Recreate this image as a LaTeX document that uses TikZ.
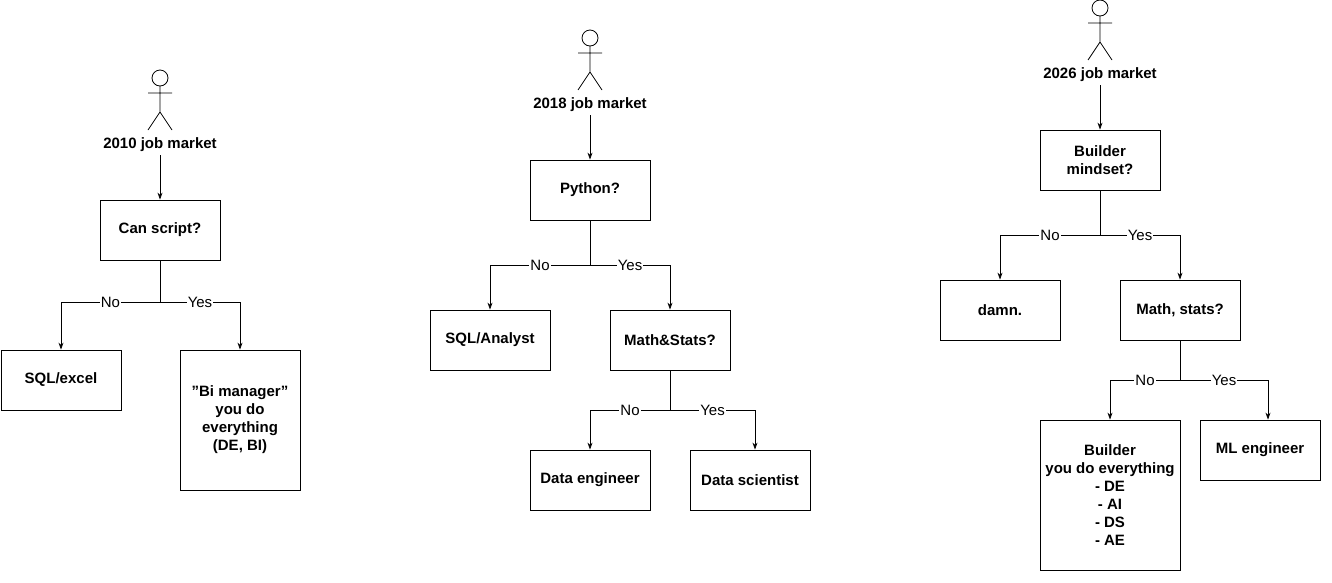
\documentclass[tikz,border=0pt]{standalone}
\usepackage{fontspec}
\setmainfont{Liberation Sans}
\usetikzlibrary{arrows.meta}
\begin{document}
\begin{tikzpicture}[x=1pt,y=-1pt,
  box/.style={draw,line width=0.8pt,minimum width=120pt,minimum height=60pt,align=center,font=\fontsize{15}{18}\selectfont\bfseries},
  lbl/.style={font=\fontsize{15}{18}\selectfont\bfseries,align=center},
  edge/.style={line width=0.8pt},
  arr/.style={line width=0.8pt,-{Stealth[length=7pt,width=5pt]}},
  yn/.style={fill=white,inner sep=1pt,font=\fontsize{15}{18}\selectfont}]
\useasboundingbox (0,0) rectangle (1332,582);
\newcommand{\stick}[3]{%
  \draw[line width=0.8pt] (#1,#2) circle (8);
  \draw[line width=0.8pt] (#1,#2+8) -- (#1,#2+34) (#1-12,#2+15) -- (#1+12,#2+15)
     (#1-12,#2+52) -- (#1,#2+34) -- (#1+12,#2+52);
  \node[lbl] (#3) at (#1,#2+67) {};}
% panel 1
\stick{160}{78}{m1}
\node[lbl] at (160,145) {2010 job market};
\node[box] (a1) at (160,230) {Can script?};
\node[box] (a2) at (61,380) {SQL/excel};
\node[box,minimum height=140pt] (a3) at (240,420) {"Bi manager"\\you do\\everything\\(DE, BI)};
\coordinate (j1) at (160,302);
\draw[arr] (160,155) -- (a1.north);
\draw[edge] (a1.south) -- (j1);
\draw[arr] (j1) -- (a2.north|-j1) node[yn,pos=0.5] {No} -- (a2.north);
\draw[arr] (j1) -- (a3.north|-j1) node[yn,pos=0.5] {Yes} -- (a3.north);
% panel 2
\stick{590}{38}{m2}
\node[lbl] at (590,105) {2018 job market};
\node[box] (b1) at (590,190) {Python?};
\node[box] (b2) at (490,340) {SQL/Analyst};
\node[box] (b3) at (670,340) {Math\&Stats?};
\node[box] (b4) at (590,480) {Data engineer};
\node[box] (b5) at (750,480) {Data scientist};
\coordinate (j2) at (590,265);
\coordinate (j3) at (670,410);
\draw[arr] (590,115) -- (b1.north);
\draw[edge] (b1.south) -- (j2);
\draw[arr] (j2) -- (b2.north|-j2) node[yn,pos=0.5] {No} -- (b2.north);
\draw[arr] (j2) -- (b3.north|-j2) node[yn,pos=0.5] {Yes} -- (b3.north);
\draw[edge] (b3.south) -- (j3);
\draw[arr] (j3) -- (b4.north|-j3) node[yn,pos=0.5] {No} -- (b4.north);
\draw[arr] (j3) -- ([xshift=5pt]b5.north|-j3) node[yn,pos=0.5] {Yes} -- ([xshift=5pt]b5.north);
% panel 3
\stick{1100}{8}{m3}
\node[lbl] at (1100,75) {2026 job market};
\node[box] (c1) at (1100,160) {Builder\\mindset?};
\node[box] (c2) at (1000,310) {damn.};
\node[box] (c3) at (1180,310) {Math, stats?};
\node[box,minimum width=140pt,minimum height=150pt] (c4) at (1110,495) {Builder\\you do everything\\- DE\\- AI\\- DS\\- AE};
\node[box] (c5) at (1260,450) {ML engineer};
\coordinate (j4) at (1100,235);
\coordinate (j5) at (1180,380);
\draw[arr] (1100,85) -- (c1.north);
\draw[edge] (c1.south) -- (j4);
\draw[arr] (j4) -- (c2.north|-j4) node[yn,pos=0.5] {No} -- (c2.north);
\draw[arr] (j4) -- (c3.north|-j4) node[yn,pos=0.5] {Yes} -- (c3.north);
\draw[edge] (c3.south) -- (j5);
\draw[arr] (j5) -- (c4.north|-j5) node[yn,pos=0.5] {No} -- (c4.north);
\draw[arr] (j5) -- ([xshift=8pt]c5.north|-j5) node[yn,pos=0.5] {Yes} -- ([xshift=8pt]c5.north);
\end{tikzpicture}
\end{document}
